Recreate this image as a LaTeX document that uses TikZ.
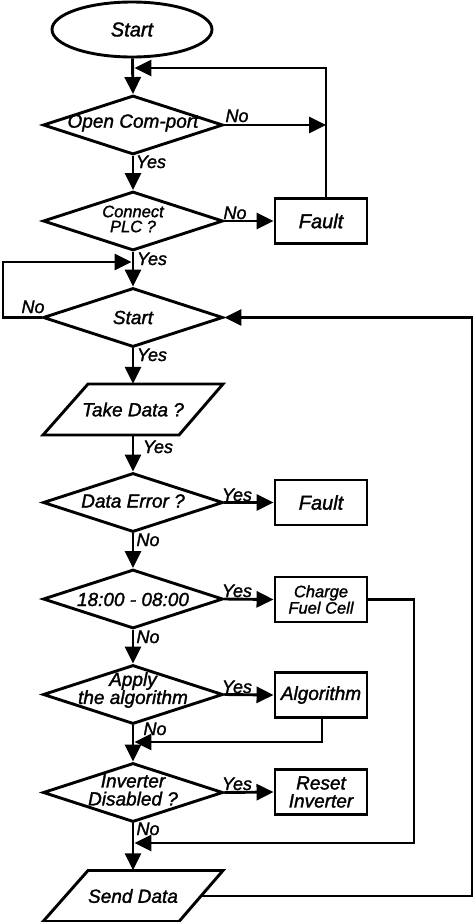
\documentclass[tikz,border=0pt]{standalone}
\usepackage{fontspec}
\setmainfont{Liberation Sans}
\newfontfamily\flowfont{Liberation Sans}[FakeBold=1.5]
\usetikzlibrary{shapes.geometric,arrows.meta}
\begin{document}
\begin{tikzpicture}[x=1pt,y=-1pt,
  every node/.style={font=\flowfont\itshape\fontsize{19}{18}\selectfont},
  base/.style={draw, line width=2.9pt, inner sep=0pt},
  term/.style={base, ellipse, minimum width=160pt, minimum height=55pt},
  dec/.style={base, diamond, minimum width=180pt, minimum height=59pt},
  procbox/.style={base, rectangle, minimum width=92pt, minimum height=45pt, align=center},
  io/.style={rectangle, inner sep=0pt, minimum width=136pt, minimum height=51pt},
  iopath/.style={line width=2.9pt, line join=miter},
  txt/.style={align=center, inner sep=0pt},
  small/.style={font=\flowfont\itshape\fontsize{16.5}{15}\selectfont},
  lbl/.style={anchor=base, inner sep=0pt, font=\flowfont\itshape\fontsize{18}{18}\selectfont},
  conn/.style={line width=2.9pt},
  arr/.style={conn, -{Triangle[length=17pt,width=16pt]}}
]
\useasboundingbox (0,0) rectangle (474,922);

% shapes
\node[term] (start) at (132,29.5) {\fontsize{20}{20}\selectfont Start};
\node[dec] (d1) at (133,125) {};
\node[txt] (t1) at (133,123) {Open Com-port};
\node[dec] (d2) at (133,221) {};
\node[txt,small] (t2) at (133,219) {Connect\\PLC ?};
\node[procbox] (fault1) at (321,221) {\fontsize{20}{20}\selectfont Fault};
\node[dec] (d3) at (133,317.5) {};
\node[txt] (t3) at (133,317.5) {Start};
\node[io] (take) at (133,409.5) {Take Data ?};
\draw[iopath, shift={(take.center)}] (-90,25.5) -- (-45,-25.5) -- (90,-25.5) -- (46,25.5) -- cycle;
\node[dec] (d4) at (133,502.5) {};
\node[txt] (t4) at (133,501) {Data Error ?};
\node[procbox] (fault2) at (321,502.5) {\fontsize{20}{20}\selectfont Fault};
\node[dec] (d5) at (133,599) {};
\node[txt] (t5) at (133,599.5) {18:00 - 08:00};
\node[procbox,small] (charge) at (321,599.5) {Charge\\Fuel Cell};
\node[dec] (d6) at (133,694.5) {};
\node[txt] (t6) at (133,690) {Apply\\the algorithm};
\node[procbox] (algo) at (321,695) {Algorithm};
\node[dec] (d7) at (133,792.5) {};
\node[txt] (t7) at (133,790) {Inverter\\Disabled ?};
\node[procbox] (reset) at (321,792) {Reset\\Inverter};
\node[io] (send) at (133,896) {Send Data};
\draw[iopath, shift={(send.center)}] (-90,25.5) -- (-45,-25.5) -- (90,-25.5) -- (46,25.5) -- cycle;

% helper coordinates
\coordinate (fk) at (326,68);
\coordinate (j1) at (134.4,68);
\coordinate (lk) at (3,262);
\coordinate (jl) at (131.6,262);
\coordinate (ak) at (322,742);
\coordinate (ja) at (134.4,742);
\coordinate (ck) at (414,843);
\coordinate (jc) at (134.4,843);
\coordinate (rk) at (472,317.5);

% main flow
\draw[arr] (start) -- (d1.north);
\draw[arr] (d1.south) -- (d2.north);
\draw[arr] (d2.south) -- (d3.north);
\draw[arr] (d3.south) -- (take.north);
\draw[arr] (take.south) -- (d4.north);
\draw[arr] (d4.south) -- (d5.north);
\draw[arr] (d5.south) -- (d6.north);
\draw[arr] (d6.south) -- (d7.north);
\draw[arr] (d7.south) -- (send.north);

% side branches
\draw[arr] (d1.east) -- (d1.east -| fk);
\draw[arr] (d2.east) -- (fault1.west);
\draw[arr] (fault1.north -| fk) -- (fk) -- (j1);
\draw[arr] (d3.west) -- (d3.west -| lk) -- (lk) -- (jl);
\draw[arr] (d4.east) -- (fault2.west);
\draw[arr] (d5.east) -- (charge.west);
\draw[arr] (d6.east) -- (algo.west);
\draw[arr] (d7.east) -- (reset.west);
\draw[arr] (algo.south -| ak) -- (ak) -- (ja);
\draw[arr] (charge.east) -- (charge.east -| ck) -- (ck) -- (jc);
\draw[arr] (send.east) -- (send.east -| rk) -- (rk) -- (d3.east);

% labels
\node[lbl] (l1) at (237,122) {No};
\node[lbl] (l2) at (151,168) {Yes};
\node[lbl] (l3) at (235,219) {No};
\node[lbl] (l4) at (152,265) {Yes};
\node[lbl] (l5) at (33,313) {No};
\node[lbl] (l6) at (152,361) {Yes};
\node[lbl] (l7) at (158,453) {Yes};
\node[lbl] (l8) at (237,501) {Yes};
\node[lbl] (l9) at (148,546) {No};
\node[lbl] (l10) at (237,597) {Yes};
\node[lbl] (l11) at (148,643) {No};
\node[lbl] (l12) at (237,693) {Yes};
\node[lbl] (l13) at (155,735) {No};
\node[lbl] (l14) at (237,790) {Yes};
\node[lbl] (l15) at (148,835) {No};
\end{tikzpicture}
\end{document}
